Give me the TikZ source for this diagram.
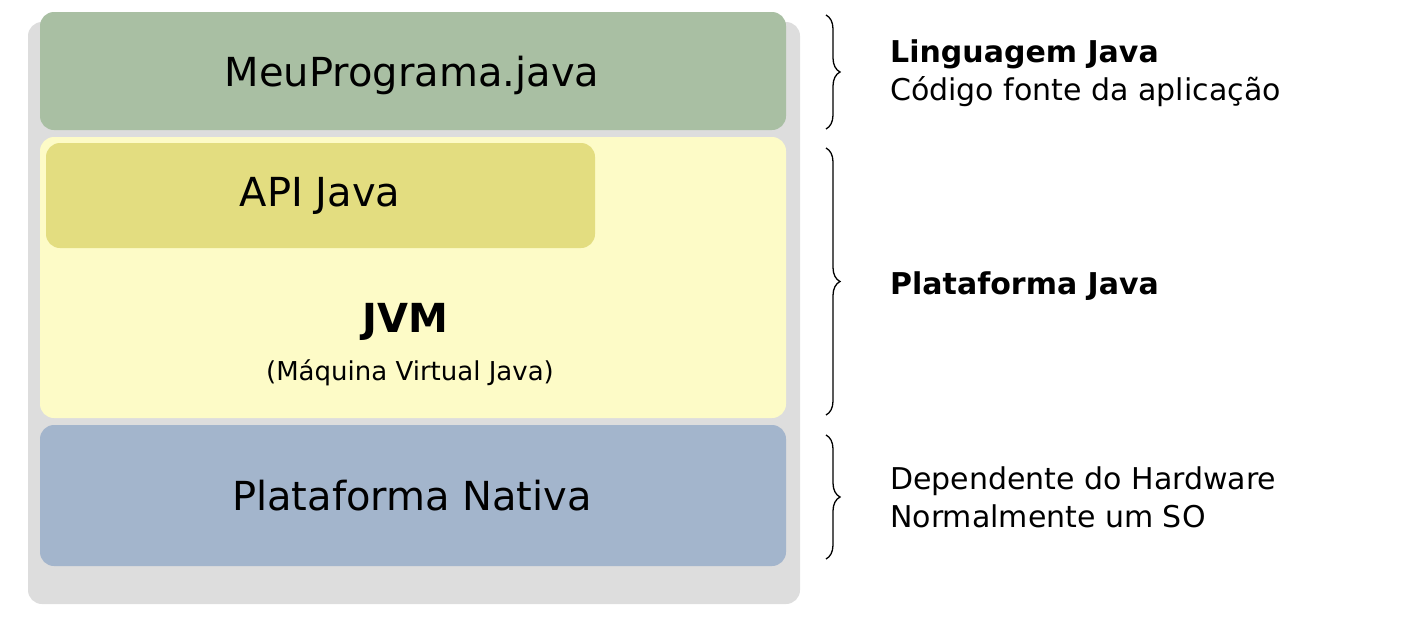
\documentclass[tikz,border=0pt]{standalone}
\usepackage{fontspec}
\setmainfont{DejaVu Sans}
\usetikzlibrary{decorations.pathreplacing}
\definecolor{bggray}{HTML}{DDDDDD}
\definecolor{greenb}{HTML}{A9BFA3}
\definecolor{yellowb}{HTML}{FDFBC7}
\definecolor{apib}{HTML}{E3DD80}
\definecolor{blueb}{HTML}{A3B5CC}
\tikzset{layer/.style={rounded corners=14pt,draw=none},
 brc/.style={decorate,decoration={brace,amplitude=14pt},line width=1.3pt},
 lbl/.style={anchor=west,align=left,inner sep=0pt,font=\fontsize{30}{38}\selectfont}}
\begin{document}
\begin{tikzpicture}[x=1pt,y=-1pt]
\useasboundingbox (0,0) rectangle (1408,616);
\fill[bggray,layer] (28,22) rectangle (800,604);
\fill[greenb,layer] (40,12) rectangle (786,130);
\fill[yellowb,layer] (40,137) rectangle (786,418);
\fill[apib,layer] (46,143) rectangle (595,248);
\fill[blueb,layer] (40,425) rectangle (786,566);
\node (meu) at (412,75) {\fontsize{40}{48}\selectfont MeuPrograma.java};
\node (api) at (320,196) {\fontsize{40}{48}\selectfont API Java};
\node (jvm) at (405,322) {\fontsize{40}{48}\selectfont\bfseries JVM};
\node (mvj) at (410,373) {\fontsize{26}{32}\selectfont (Máquina Virtual Java)};
\node (nat) at (412,496) {\fontsize{40}{48}\selectfont Plataforma Nativa};
\coordinate (b1t) at (826,15); \coordinate (b1b) at (826,129);
\coordinate (b2t) at (826,148); \coordinate (b2b) at (826,415);
\coordinate (b3t) at (826,435); \coordinate (b3b) at (826,559);
\draw[brc] (b1t) -- (b1b);
\draw[brc] (b2t) -- (b2b);
\draw[brc] (b3t) -- (b3b);
\node[lbl] (l1) at (890,73) {\textbf{Linguagem Java}\\Código fonte da aplicação};
\node[lbl] (l2) at (890,286) {\textbf{Plataforma Java}};
\node[lbl] (l3) at (890,497) {Dependente do Hardware\\Normalmente um SO};
\end{tikzpicture}
\end{document}
